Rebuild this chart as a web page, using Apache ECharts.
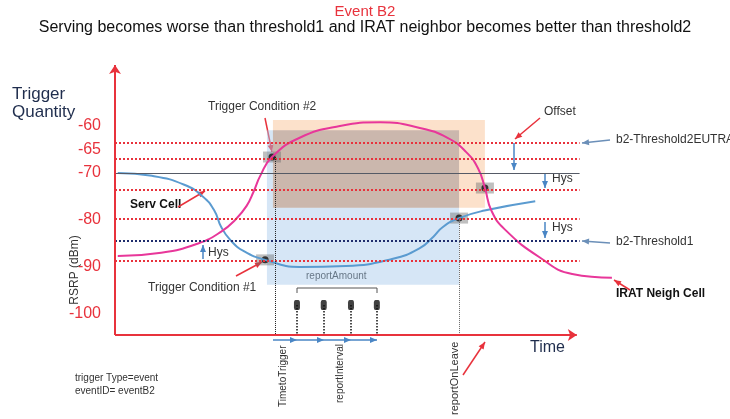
<!DOCTYPE html>
<html><head><meta charset="utf-8">
<script src="https://cdn.jsdelivr.net/npm/echarts@6/dist/echarts.min.js"></script>
<style>body{margin:0}#Chart{width:730px;height:419px;background:#fff}</style>
</head><body><div id="Chart"></div>
<script>
// 时间单位 t, 纵轴 dBm
var yTicks=[-60,-65,-70,-80,-90,-100]
var servT=[0.6,8,15,19,21.5,23,25,28,32.5,40,50,60,66,69,71,74.5,80,91]
var servV=[-70,-70.6,-72.5,-75,-78,-81.5,-84.3,-86.7,-88.5,-90,-89.8,-88.3,-86,-83.5,-81.5,-79.6,-78,-76]
var neighT=[0.6,10,18,23,26,28.5,30,31.5,34,40,48.7,57.4,66,72,76,78.6,80.1,81.5,84.4,92,99,107.6]
var neighV=[-87.7,-87,-85,-82.5,-80,-77,-74,-70.5,-66.6,-62.5,-60,-59.2,-60.4,-62.5,-65.5,-69,-73.2,-78,-82,-88,-91.5,-92.3]
var redLevels=[-63.6,-67,-73.6,-79.8,-88.7]
var servLevel=-70, thr1Level=-84.5
var triggerPts=[[34,-66.6],[80.1,-73.2],[32.5,-88.5],[74.5,-79.6]]
var reportT=[39.4,45.2,51.1,56.7], reportV=-98.1
var ttt=34.6, leaveT=74.5
var yMin=-104.5, yMax=-47, tEnd=100

function zip(a,b){return a.map(function(v,i){return [v,b[i]]})}

function drawChar(){
    var myChart=echarts.init(document.getElementById('Chart'))
    var ml=redLevels.map(function(v){return [{coord:[0,v]},{coord:[100.6,v]}]})
    var txt=function(x,y,s,o){return {type:'text',x:x,y:y,style:Object.assign({text:s,fill:'#333',font:'12px Arial',verticalAlign:'top'},o||{})}}
    var vtxt=function(x,y,s,f){return {type:'text',x:x,y:y,rotation:Math.PI/2,style:{text:s,fill:'#333',font:f||'10px Arial',align:'left',verticalAlign:'middle'}}}
    var ln=function(x1,y1,x2,y2,c){return {type:'line',shape:{x1:x1,y1:y1,x2:x2,y2:y2},style:{stroke:c||'#e8323c',lineWidth:1.5}}}
    var head=function(x,y,ang,c){return {type:'polygon',x:x,y:y,rotation:ang,shape:{points:[[0,0],[-7,-3],[-7,3]]},style:{fill:c||'#e8323c'}}}
    var arrow=function(x1,y1,x2,y2,c){return [ln(x1,y1,x2,y2,c),head(x2,y2,-Math.atan2(y2-y1,x2-x1),c)]}
    var g=[
        txt(365,4,'Event B2',{fill:'#e8323c',font:'15px Arial',align:'center'}),
        txt(365,20,'Serving becomes worse than threshold1 and IRAT neighbor becomes better than threshold2',{fill:'#111',font:'16px Arial',align:'center'}),
        txt(12,86,'Trigger',{fill:'#1f2d4d',font:'17px Arial'}),
        txt(12,104,'Quantity',{fill:'#1f2d4d',font:'17px Arial'}),
        {type:'text',x:75,y:270,rotation:Math.PI/2,style:{text:'RSRP (dBm)',fill:'#333',font:'12px Arial',align:'center',verticalAlign:'middle'}},
        txt(130,199,'Serv Cell',{fill:'#111',font:'bold 12px Arial'}),
        txt(208,101,'Trigger Condition #2',{font:'12px Arial'}),
        txt(148,282,'Trigger Condition #1',{font:'12px Arial'}),
        txt(544,106,'Offset',{font:'12px Arial'}),
        txt(616,134,'b2-Threshold2EUTRA',{font:'12px Arial'}),
        txt(616,236,'b2-Threshold1',{font:'12px Arial'}),
        txt(616,288,'IRAT Neigh Cell',{fill:'#111',font:'bold 12px Arial'}),
        txt(208,247,'Hys',{font:'12px Arial'}),
        txt(552,173,'Hys',{font:'12px Arial'}),
        txt(552,222,'Hys',{font:'12px Arial'}),
        txt(306,271,'reportAmount',{font:'10px Arial'}),
        txt(530,340,'Time',{fill:'#1f2d4d',font:'16px Arial'}),
        txt(75,373,'trigger Type=event',{font:'10px Arial'}),
        txt(75,386,'eventID= eventB2',{font:'10px Arial'}),
        vtxt(283,407,'TimetoTrigger'),
        vtxt(340,403,'reportInterval'),
        vtxt(455,415,'reportOnLeave','11px Arial'),
        {type:'polyline',shape:{points:[[297,293],[297,288],[377,288],[377,293]]},style:{stroke:'#555',fill:null,lineWidth:1}}
    ]
    var segs=[[273,297],[297,324],[324,351],[351,377]]
    segs.forEach(function(s){g=g.concat(arrow(s[0],340,s[1],340,'#4a86c5'))})
    g=g.concat(arrow(540,118,515,139),arrow(610,140,582,143,'#6b8fb8'),arrow(610,243,582,241,'#6b8fb8'),
        arrow(630,290,614,280),arrow(178,207,205,191),arrow(265,118,272,152),arrow(236,276,262,262),
        arrow(463,375,485,342),arrow(203,259,203,245,'#4a86c5'),arrow(514,143,514,170,'#4a86c5'),
        arrow(545,174,545,188,'#4a86c5'),arrow(545,222,545,238,'#4a86c5'))
    var option={
        animation:false,
        grid:{left:115,right:107,top:65,bottom:84},
        xAxis:{type:'value',min:0,max:110,show:false},
        yAxis:{type:'value',min:yMin,max:yMax,axisLine:{show:false},axisTick:{show:false},splitLine:{show:false},
            axisLabel:{customValues:yTicks,color:'#e8323c',fontSize:16,margin:14}},
        graphic:g,
        series:[
            {type:'line',data:[],silent:true,
             markArea:{silent:true,data:[
                [{coord:[32.9,-60.9],itemStyle:{color:'rgba(165,200,235,0.45)'}},{coord:[74.5,-93.8]}],
                [{coord:[34.2,-58.7],itemStyle:{color:'rgba(250,200,160,0.55)'}},{coord:[80.1,-77.4]}],
                [{coord:[34.2,-60.9],itemStyle:{color:'rgba(150,130,125,0.35)'}},{coord:[74.5,-77.4]}]]},
             markLine:{silent:true,symbol:'none',label:{show:false},data:ml.concat([
                [{coord:[0,servLevel],lineStyle:{type:'solid',color:'#555a66',width:1}},{coord:[100.6,servLevel]}],
                [{coord:[0,thr1Level],lineStyle:{type:'dotted',color:'#1f2d6d',width:2}},{coord:[100.6,thr1Level]}],
                [{coord:[ttt,-66.6],lineStyle:{type:'dotted',color:'#222',width:1}},{coord:[ttt,yMin]}],
                [{coord:[leaveT,-79.6],lineStyle:{type:'dotted',color:'#666',width:1}},{coord:[leaveT,yMin]}]]),
                lineStyle:{type:'dotted',color:'#e8323c',width:2}}},
            {type:'line',data:zip(servT,servV),smooth:0.5,symbol:'none',lineStyle:{color:'#5b9bd0',width:2}},
            {type:'line',data:zip(neighT,neighV),smooth:0.5,symbol:'none',lineStyle:{color:'#e8379a',width:2}},
            {type:'scatter',data:triggerPts,symbol:'rect',symbolSize:[18,11],itemStyle:{color:'rgba(110,110,110,0.55)'},silent:true},
            {type:'scatter',data:triggerPts,symbolSize:7,itemStyle:{color:'#111'},silent:true},
            {type:'scatter',data:reportT.map(function(t){return [t,reportV]}),symbol:'roundRect',symbolSize:[6,10],itemStyle:{color:'#111'},silent:true,
             markLine:{silent:true,symbol:'none',label:{show:false},lineStyle:{type:'dotted',color:'#111',width:1.5},
                data:reportT.map(function(t){return [{coord:[t,reportV]},{coord:[t,yMin]}]})}},
            {type:'line',data:[],silent:true,
             markLine:{silent:true,symbol:['none','arrow'],symbolSize:9,label:{show:false},
                lineStyle:{type:'solid',color:'#e8323c',width:2},
                data:[[{coord:[0,yMin]},{coord:[0,yMax]}],[{coord:[0,yMin]},{coord:[tEnd,yMin]}]]}}
        ]
    }
    myChart.setOption(option)
}
drawChar()
</script></body></html>
